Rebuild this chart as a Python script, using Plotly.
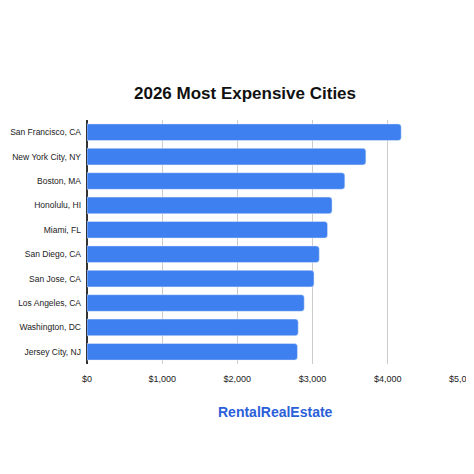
import plotly.graph_objects as go

cities = ["San Francisco, CA","New York City, NY","Boston, MA","Honolulu, HI","Miami, FL",
          "San Diego, CA","San Jose, CA","Los Angeles, CA","Washington, DC","Jersey City, NJ"]
rents = [4180, 3710, 3430, 3260, 3200, 3090, 3020, 2890, 2810, 2800]
tick_vals = [0, 1000, 2000, 3000, 4000, 5000]
tick_text = ["$0", "$1,000", "$2,000", "$3,000", "$4,000", "$5,000"]

fig = go.Figure(go.Bar(x=rents, y=cities, orientation="h",
                       marker=dict(color="#3f80f0", cornerradius=3)))
fig.update_layout(
    width=474, height=474, paper_bgcolor="white", plot_bgcolor="white",
    margin=dict(l=79, r=19, t=112, b=118),
    title=dict(text="<b>2026 Most Expensive Cities</b>", x=0.5, xanchor="center",
               y=1-85/474, yanchor="middle", font=dict(family="Liberation Sans, Arial", size=17, color="#111")),
    font=dict(family="Liberation Sans, Arial", size=8.5, color="#222"),
    bargap=0.32, showlegend=False,
    xaxis=dict(range=[0, 5002], tickvals=tick_vals, ticktext=tick_text, automargin=False,
               showgrid=True, gridcolor="#cccccc", zeroline=True, zerolinecolor="#333",
               tickfont=dict(size=9), ticks="", ticklabelstandoff=8),
    yaxis=dict(categoryorder="array", categoryarray=cities[::-1], ticks="", automargin=False,
               ticklabelstandoff=5, tickfont=dict(size=8.5)),
    annotations=[dict(text="<b>RentalRealEstate</b>", x=0.5, xref="paper", xanchor="center",
                      y=(364-412)/242, yref="paper", yanchor="middle", showarrow=False,
                      font=dict(family="Liberation Sans, Arial", size=14, color="#2b5fd9"))]
)
fig.write_html("out.html")
